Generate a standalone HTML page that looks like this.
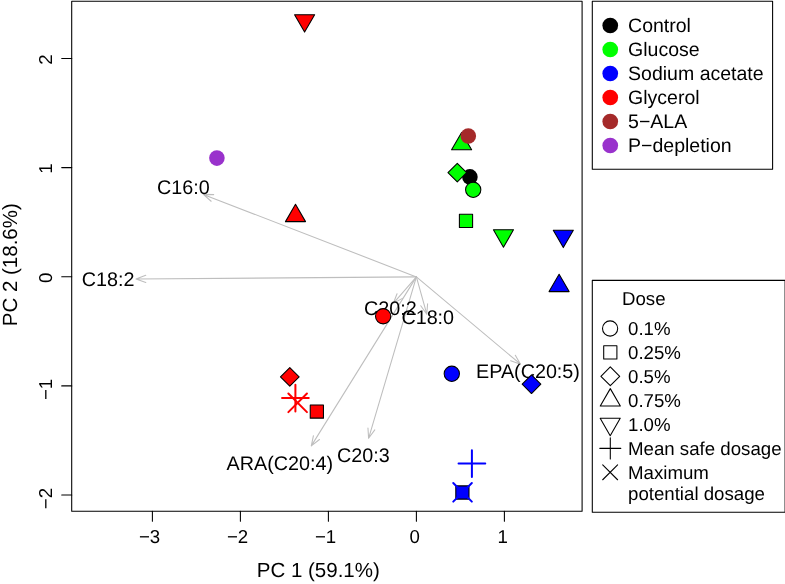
<!DOCTYPE html>
<html><head><meta charset="utf-8"><title>PCA biplot</title>
<style>html,body{margin:0;padding:0;background:#fff}svg{display:block}text{text-rendering:geometricPrecision;font-family:"Liberation Sans",sans-serif;fill:#000}</style>
</head><body>
<svg width="785" height="584" viewBox="0 0 785 584">
<rect width="785" height="584" fill="#fff"/>
<g fill="none" stroke="#000" stroke-width="1.07" stroke-linecap="round" stroke-linejoin="round">
<rect x="71.7" y="1.3" width="510.40000000000003" height="510.0"/>
<line x1="152.40" y1="511.3" x2="152.40" y2="521.3"/>
<line x1="240.40" y1="511.3" x2="240.40" y2="521.3"/>
<line x1="328.40" y1="511.3" x2="328.40" y2="521.3"/>
<line x1="416.40" y1="511.3" x2="416.40" y2="521.3"/>
<line x1="504.40" y1="511.3" x2="504.40" y2="521.3"/>
<line x1="71.7" y1="495.00" x2="61.7" y2="495.00"/>
<line x1="71.7" y1="385.88" x2="61.7" y2="385.88"/>
<line x1="71.7" y1="276.75" x2="61.7" y2="276.75"/>
<line x1="71.7" y1="167.62" x2="61.7" y2="167.62"/>
<line x1="71.7" y1="58.50" x2="61.7" y2="58.50"/>
</g>
<g font-size="18.67">
<text x="149.60" y="543.2" text-anchor="middle">−3</text>
<text x="237.60" y="543.2" text-anchor="middle">−2</text>
<text x="325.60" y="543.2" text-anchor="middle">−1</text>
<text x="414.80" y="543.2" text-anchor="middle">0</text>
<text x="502.80" y="543.2" text-anchor="middle">1</text>
<text transform="translate(51.6,498.60) rotate(-90)" text-anchor="middle">−2</text>
<text transform="translate(51.6,389.48) rotate(-90)" text-anchor="middle">−1</text>
<text transform="translate(51.6,277.75) rotate(-90)" text-anchor="middle">0</text>
<text transform="translate(51.6,168.62) rotate(-90)" text-anchor="middle">1</text>
<text transform="translate(51.6,59.50) rotate(-90)" text-anchor="middle">2</text>
</g>
<text x="318.3" y="576.7" font-size="20.5" text-anchor="middle">PC 1 (59.1%)</text>
<text transform="translate(17.3,264.7) rotate(-90)" font-size="20.5" text-anchor="middle">PC 2 (18.6%)</text>
<g fill="none" stroke="#bebebe" stroke-width="1.07" stroke-linecap="round" stroke-linejoin="round">
<path d="M416.40 276.90L203.30 194.40M211.13 201.25L203.30 194.40L213.70 194.61"/>
<path d="M416.40 276.90L136.00 279.00M145.80 282.48L136.00 279.00L145.75 275.37"/>
<path d="M416.40 276.90L393.30 303.40M402.40 298.37L393.30 303.40L397.04 293.70"/>
<path d="M416.40 276.90L426.80 314.20M427.60 303.83L426.80 314.20L420.75 305.74"/>
<path d="M416.40 276.90L520.50 364.20M515.30 355.19L520.50 364.20L510.73 360.65"/>
<path d="M416.40 276.90L311.30 445.90M319.48 439.48L311.30 445.90L313.44 435.72"/>
<path d="M416.40 276.90L368.60 438.30M374.79 429.94L368.60 438.30L367.96 427.92"/>
</g>
<g font-size="19.75">
<text x="157.10" y="194.00">C16:0</text>
<text x="81.70" y="286.00">C18:2</text>
<text x="364.00" y="315.00">C20:2</text>
<text x="401.40" y="323.90">C18:0</text>
<text x="476.00" y="378.00">EPA(C20:5)</text>
<text x="226.60" y="469.90">ARA(C20:4)</text>
<text x="337.10" y="461.50">C20:3</text>
</g>
<g stroke-width="1.07" stroke-linecap="round" stroke-linejoin="round">
<circle cx="469.9" cy="176.9" r="7.8" fill="#000000" stroke="none"/>
<circle cx="473.2" cy="189.8" r="7.65" fill="#00ff00" stroke="#000"/>
<rect x="459.40" y="214.30" width="13.20" height="13.20" fill="#00ff00" stroke="#000"/>
<path d="M447.96 172.6L457.3 181.94L466.64 172.6L457.3 163.26Z" fill="#00ff00" stroke="#000"/>
<path d="M461.6 132.41L471.63 149.79L451.57 149.79Z" fill="#00ff00" stroke="#000"/>
<path d="M503.45 247.19L513.48 229.81L493.42 229.81Z" fill="#00ff00" stroke="#000"/>
<circle cx="451.8" cy="373.8" r="7.65" fill="#0000ff" stroke="#000"/>
<rect x="455.80" y="485.90" width="13.20" height="13.20" fill="#0000ff" stroke="#000"/>
<path d="M522.16 384.2L531.5 393.54L540.84 384.2L531.5 374.86Z" fill="#0000ff" stroke="#000"/>
<path d="M559.1 274.21L569.13 291.59L549.07 291.59Z" fill="#0000ff" stroke="#000"/>
<path d="M563.3 247.59L573.33 230.21L553.27 230.21Z" fill="#0000ff" stroke="#000"/>
<circle cx="383.15" cy="316.25" r="7.65" fill="#ff0000" stroke="#000"/>
<rect x="310.25" y="404.95" width="13.20" height="13.20" fill="#ff0000" stroke="#000"/>
<path d="M280.46 376.9L289.8 386.24L299.14 376.9L289.8 367.56Z" fill="#ff0000" stroke="#000"/>
<path d="M295.5 204.26L305.53 221.64L285.47 221.64Z" fill="#ff0000" stroke="#000"/>
<path d="M304.6 32.09L314.63 14.71L294.57 14.71Z" fill="#ff0000" stroke="#000"/>
<circle cx="468.3" cy="136.0" r="7.8" fill="#a52a2a" stroke="none"/>
<circle cx="216.9" cy="158.1" r="7.8" fill="#9932cc" stroke="none"/>
<path d="M282.04 398.1L308.76 398.1M295.4 384.74L295.4 411.46" fill="none" stroke="#ff0000" stroke-width="2"/>
<path d="M288.35 393.55L306.95 412.15M288.35 412.15L306.95 393.55" fill="none" stroke="#ff0000" stroke-width="2"/>
<path d="M458.54 463.6L485.26 463.6M471.9 450.24L471.9 476.96" fill="none" stroke="#0000ff" stroke-width="2"/>
<path d="M453.25 483.00L471.85 501.60M453.25 501.60L471.85 483.00" fill="none" stroke="#0000ff" stroke-width="2"/>
</g>
<g stroke-width="1.07" stroke-linecap="round" stroke-linejoin="round">
<rect x="592.3" y="1.3" width="180.30000000000007" height="168.0" fill="#fff" stroke="#000"/>
<circle cx="610.25" cy="25.5" r="7.85" fill="#000000" stroke="none"/>
<circle cx="610.25" cy="49.5" r="7.85" fill="#00ff00" stroke="none"/>
<circle cx="610.25" cy="73.5" r="7.85" fill="#0000ff" stroke="none"/>
<circle cx="610.25" cy="97.5" r="7.85" fill="#ff0000" stroke="none"/>
<circle cx="610.25" cy="121.5" r="7.85" fill="#a52a2a" stroke="none"/>
<circle cx="610.25" cy="145.5" r="7.85" fill="#9932cc" stroke="none"/>
<rect x="592.3" y="280.4" width="192.80000000000007" height="231.89999999999998" fill="#fff" stroke="#000"/>
</g>
<g font-size="19.5">
<text x="628.1" y="32.30">Control</text>
<text x="628.1" y="56.30">Glucose</text>
<text x="628.1" y="80.30">Sodium acetate</text>
<text x="628.1" y="104.30">Glycerol</text>
<text x="628.1" y="128.30">5−ALA</text>
<text x="628.1" y="152.30">P−depletion</text>
</g>
<g stroke-width="1.07" stroke-linecap="round" stroke-linejoin="round">
<circle cx="610.1" cy="328.5" r="7.6" fill="none" stroke="#000"/>
<rect x="603.70" y="345.80" width="13.20" height="13.20" fill="none" stroke="#000"/>
<path d="M600.91 376.3L610.3 385.69L619.69 376.3L610.3 366.91Z" fill="none" stroke="#000"/>
<path d="M610.3 388.61L620.33 405.99L600.27 405.99Z" fill="none" stroke="#000"/>
<path d="M610.2 435.69L620.23 418.31L600.17 418.31Z" fill="none" stroke="#000"/>
<path d="M599.76 448.35L620.84 448.35M610.3 437.81L610.3 458.89" fill="none" stroke="#000000" stroke-width="1.07"/>
<path d="M602.70 464.85L617.60 479.75M602.70 479.75L617.60 464.85" fill="none" stroke="#000000" stroke-width="1.07"/>
</g>
<g font-size="18.67">
<text x="622.0" y="304.6">Dose</text>
<text x="628.0" y="335.30">0.1%</text>
<text x="628.0" y="359.20">0.25%</text>
<text x="628.0" y="383.10">0.5%</text>
<text x="628.0" y="407.00">0.75%</text>
<text x="628.0" y="430.90">1.0%</text>
<text x="628.0" y="454.80">Mean safe dosage</text>
<text x="628.0" y="478.70">Maximum</text>
<text x="628.0" y="499.8">potential dosage</text>
</g>
</svg></body></html>
